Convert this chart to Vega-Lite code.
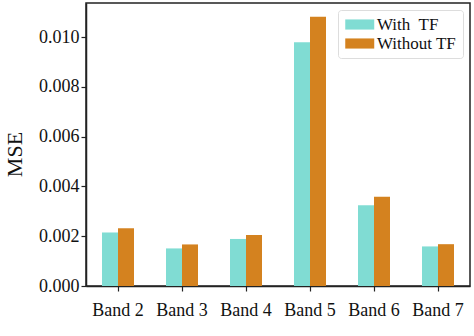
{
  "$schema": "https://vega.github.io/schema/vega-lite/v6.json",
  "width": 384,
  "height": 283,
  "autosize": "none",
  "padding": {"left": 86, "top": 3, "right": 4, "bottom": 50},
  "config": {
    "font": "Liberation Serif",
    "view": {"stroke": "#222", "strokeWidth": 1.5},
    "axis": {
      "domainColor": "#222",
      "domainWidth": 1.5,
      "tickColor": "#222",
      "tickWidth": 1.2,
      "labelColor": "#111",
      "titleColor": "#111",
      "labelFont": "Liberation Serif",
      "titleFont": "Liberation Serif",
      "grid": false
    }
  },
  "data": {
    "values": [
      {"band": "Band 2", "series": "With\u00a0 TF", "mse": 0.00215},
      {"band": "Band 2", "series": "Without TF", "mse": 0.00232},
      {"band": "Band 3", "series": "With\u00a0 TF", "mse": 0.00151},
      {"band": "Band 3", "series": "Without TF", "mse": 0.00167},
      {"band": "Band 4", "series": "With\u00a0 TF", "mse": 0.00189},
      {"band": "Band 4", "series": "Without TF", "mse": 0.00205},
      {"band": "Band 5", "series": "With\u00a0 TF", "mse": 0.00979},
      {"band": "Band 5", "series": "Without TF", "mse": 0.01082},
      {"band": "Band 6", "series": "With\u00a0 TF", "mse": 0.00324},
      {"band": "Band 6", "series": "Without TF", "mse": 0.00359},
      {"band": "Band 7", "series": "With\u00a0 TF", "mse": 0.00159},
      {"band": "Band 7", "series": "Without TF", "mse": 0.00168}
    ]
  },
  "mark": {"type": "bar"},
  "encoding": {
    "x": {
      "field": "band",
      "type": "nominal",
      "sort": null,
      "scale": {"paddingInner": 0.5, "paddingOuter": 0.25},
      "axis": {
        "title": null,
        "labelAngle": 0,
        "labelFontSize": 18,
        "tickSize": 5,
        "labelPadding": 10
      }
    },
    "xOffset": {"field": "series", "type": "nominal", "sort": null},
    "y": {
      "field": "mse",
      "type": "quantitative",
      "scale": {"domain": [0, 0.01137], "nice": false},
      "axis": {
        "values": [0, 0.002, 0.004, 0.006, 0.008, 0.01],
        "format": ".3f",
        "title": "MSE",
        "titleFontSize": 22,
        "titleFontWeight": "normal",
        "titlePadding": 12,
        "titleY": 151,
        "labelFontSize": 18,
        "tickSize": 5,
        "labelPadding": 2
      }
    },
    "color": {
      "field": "series",
      "type": "nominal",
      "sort": null,
      "scale": {"range": ["#80DCD3", "#D4821F"]},
      "legend": {
        "title": null,
        "orient": "none",
        "legendX": 252,
        "legendY": 7,
        "padding": 6,
        "strokeColor": "#dddddd",
        "fillColor": "white",
        "cornerRadius": 3,
        "symbolType": "M-1,-0.7L3,-0.7L3,0.7L-1,0.7Z",
        "symbolSize": 210,
        "symbolStrokeWidth": 0,
        "labelFont": "Liberation Serif",
        "labelFontSize": 17,
        "labelOffset": 16,
        "labelColor": "#111",
        "rowPadding": 1
      }
    }
  }
}
